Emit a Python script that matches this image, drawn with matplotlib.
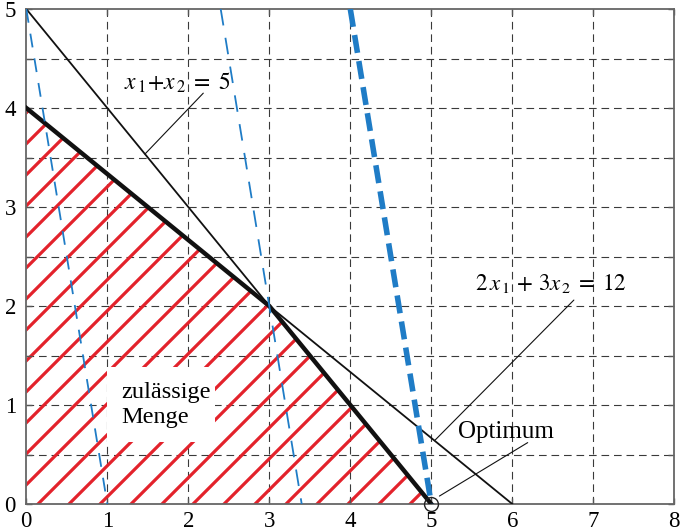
import numpy as np
import matplotlib
matplotlib.use("Agg")
import matplotlib.pyplot as plt
from matplotlib.patches import Polygon, Rectangle

plt.rcParams['font.family'] = ['Liberation Serif', 'DejaVu Serif']
plt.rcParams['mathtext.fontset'] = 'stix'
plt.rcParams['lines.scale_dashes'] = False

# ---- data ----
x_ticks = [0, 1, 2, 3, 4, 5, 6, 7, 8]
y_ticks = [0, 0.5, 1, 1.5, 2, 2.5, 3, 3.5, 4, 4.5, 5]
# constraints a1*x1 + a2*x2 = b
con1 = (1, 1, 5)      # x1 + x2 = 5
con2 = (2, 3, 12)     # 2x1 + 3x2 = 12
# objective 5*x1 + x2 = level
obj_coef = (5, 1)
obj_levels = [5, 17, 25]
feasible = [(0, 0), (0, 4), (3, 2), (5, 0)]
boundary = [(0, 4), (3, 2), (5, 0)]
optimum = (5, 0)

RED = '#e3222b'
BLUE = '#1f7cc6'
GRID = '#3a3a3a'

W, H, DPI = 685, 531, 100
fig = plt.figure(figsize=(W / DPI, H / DPI), dpi=DPI)
L, R, B, T = 26.3, 674.3, 504, 9
ax = fig.add_axes([L / W, (H - B) / H, (R - L) / W, (B - T) / H])
ax.set_xlim(0, 8)
ax.set_ylim(0, 5)
ppx = (R - L) / 8.0
ppy = (B - T) / 5.0

# grid
for xv in x_ticks[1:-1]:
    ax.axvline(xv, color=GRID, lw=0.8, dashes=(5.5, 3.5), zorder=0.5)
for yv in y_ticks[1:-1]:
    ax.axhline(yv, color=GRID, lw=0.8, dashes=(5.5, 3.5), zorder=0.5)

# feasible region hatching (45 degrees in pixel space)
poly = Polygon(feasible, closed=True, facecolor='none', edgecolor='none')
ax.add_patch(poly)
slope = ppx / ppy
step = 31.0 / ppx
x0s = np.arange(0.145 - 20 * step, 5.2, step)
for x0 in x0s:
    xs = np.array([-1, 9])
    ln, = ax.plot(xs, (xs - x0) * slope, color=RED, lw=2.3, zorder=1,
                  solid_capstyle='butt')
    ln.set_clip_path(poly)

# white box behind text
ax.add_patch(Rectangle((1.0, 0.63), 1.33, 0.75, facecolor='white',
                       edgecolor='none', zorder=1.5))
ax.text(1.17, 1.0, 'zulässige\nMenge', fontsize=17.5, ha='left', va='center',
        linespacing=1.25, zorder=2)

# constraint lines (thin)
for a1, a2, b in (con1, con2):
    xe = b / a1
    xs = np.array([0, xe])
    ax.plot(xs, (b - a1 * xs) / a2, color='#111111', lw=1.3, zorder=3)

# feasible boundary (thick)
bx, by = zip(*boundary)
ax.plot(bx, by, color='#111111', lw=3.2, zorder=3.5, solid_joinstyle='miter')

# objective lines
c1, c2 = obj_coef
styles = [(1.3, (10, 8)), (1.3, (12, 9)), (4.0, (13, 6))]
for lev, (lw, ds) in zip(obj_levels, styles):
    ys = np.array([5, 0])
    xs = (lev - c2 * ys) / c1
    ax.plot(xs, ys, color=BLUE, lw=lw, dashes=ds, zorder=4)

# optimum marker
ax.plot([optimum[0]], [optimum[1]], marker='o', ms=10, mfc='none',
        mec='#222222', mew=1.0, clip_on=False, zorder=5)

# labels with leader lines
ax.text(1.21, 4.18, r'$x_{\,1}\!+\!x_{\,2}\;=\;5$', fontsize=17,
        ha='left', va='baseline', zorder=6)
ax.annotate('', xy=(1.465, 5 - 1.465), xytext=(2.185, 4.15),
            arrowprops=dict(arrowstyle='-', color='#111111', lw=0.8,
                            shrinkA=0, shrinkB=0), zorder=6)

ax.text(5.54, 2.16, r'$2\,x_{\,1}\,+\,3x_{\,2}\;=\;12$', fontsize=16.5,
        ha='left', va='baseline', zorder=6)
ax.annotate('', xy=(5.04, (12 - 2 * 5.04) / 3), xytext=(6.76, 2.06),
            arrowprops=dict(arrowstyle='-', color='#111111', lw=0.8,
                            shrinkA=0, shrinkB=0), zorder=6)

ax.text(5.33, 0.667, 'Optimum', fontsize=18, ha='left', va='baseline',
        zorder=6)
ax.annotate('', xy=(5.1, 0.08), xytext=(6.19, 0.62),
            arrowprops=dict(arrowstyle='-', color='#111111', lw=0.8,
                            shrinkA=0, shrinkB=0), zorder=6)

# ticks & frame
ax.set_xticks(x_ticks)
ax.set_xticklabels([str(v) for v in x_ticks])
ax.set_yticks(y_ticks)
ax.set_yticklabels([str(int(v)) if float(v).is_integer() else '' for v in y_ticks])
ax.tick_params(direction='in', length=4, width=1.0, color='#555555',
               top=True, right=True, labelsize=16.5)
ax.tick_params(axis='x', pad=5)
ax.tick_params(axis='y', pad=7.5)
for sp in ax.spines.values():
    sp.set_color('#666666')
    sp.set_linewidth(1.3)

fig.savefig('out.png', dpi=DPI)
